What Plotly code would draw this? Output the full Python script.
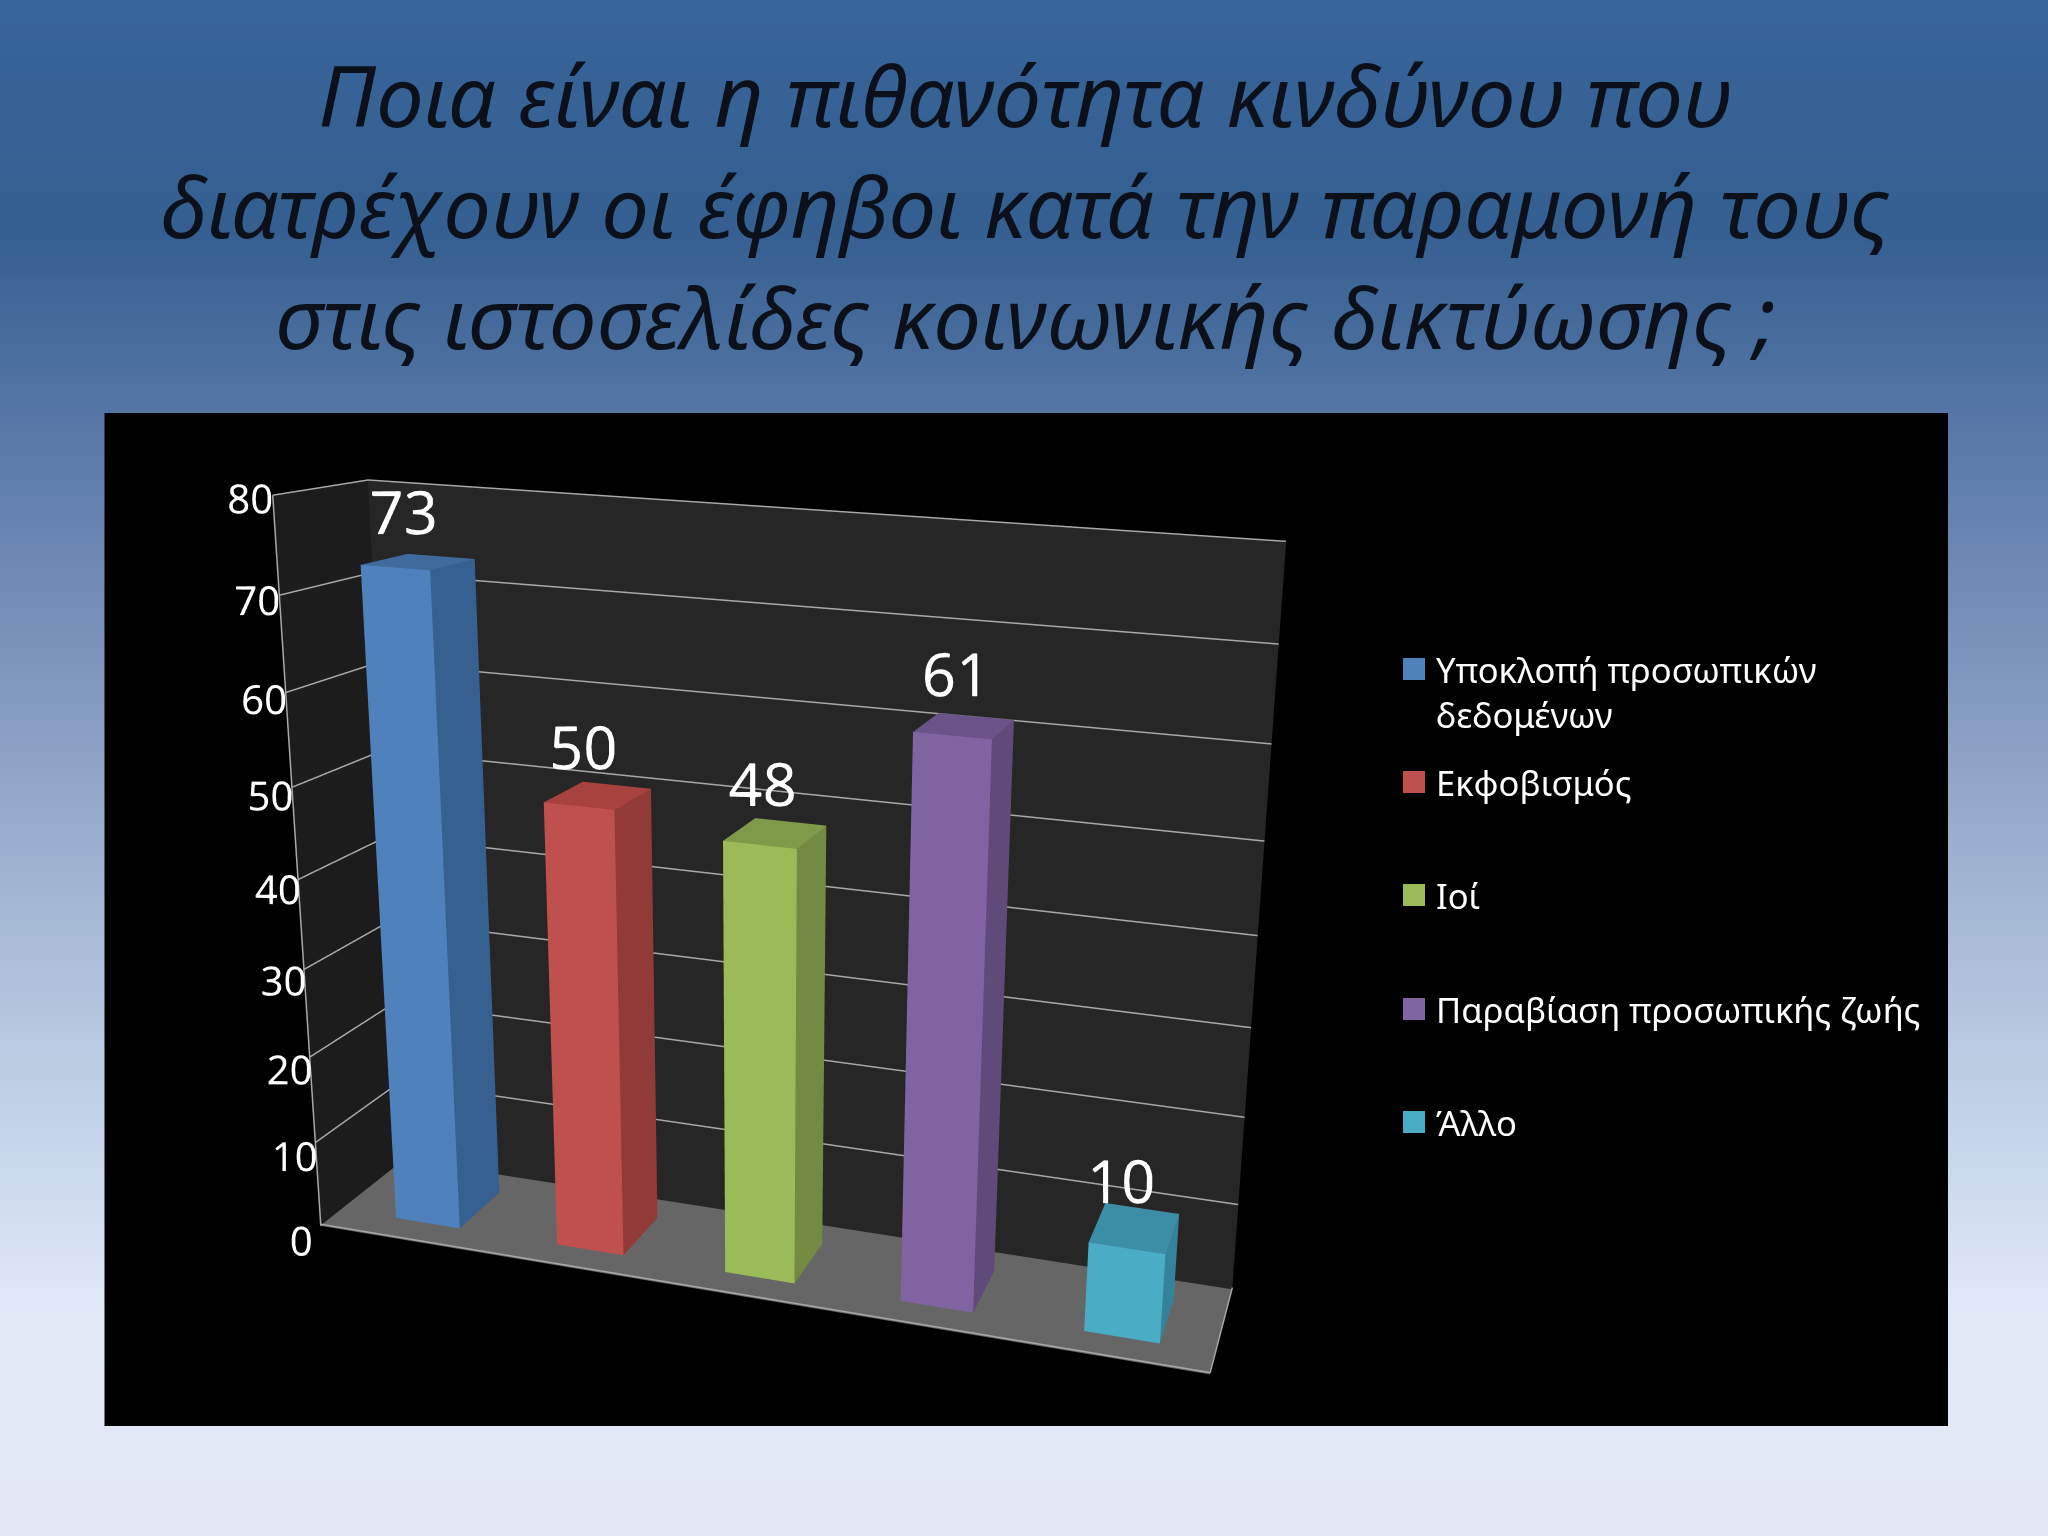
import plotly.graph_objects as go

# ---- data ----
categories = ["Υποκλοπή προσωπικών<br>δεδομένων", "Εκφοβισμός", "Ιοί", "Παραβίαση προσωπικής ζωής", "Άλλο"]
values = [73, 50, 48, 61, 10]
z_ticks = [0, 10, 20, 30, 40, 50, 60, 70, 80]
title_lines = ["Ποια είναι η πιθανότητα κινδύνου που",
               "διατρέχουν οι έφηβοι κατά την παραμονή τους",
               "στις ιστοσελίδες κοινωνικής δικτύωσης ;"]
front_colors = ["#4f81bd", "#c0504d", "#9bbb59", "#8064a2", "#4bacc6"]
side_colors = ["#36608f", "#923a38", "#728a41", "#5f4a7a", "#35839a"]
top_colors = ["#40699c", "#a8423f", "#7f9a48", "#6a5388", "#3c8ea6"]
grad_stops = [(0.0, "#37649a"), (0.15, "#345f90"), (0.27, "#5576a6"), (0.42, "#7b93bb"), (0.57, "#a0b3d1"),
              (0.73, "#c3d3e8"), (0.855, "#e1e9f7"), (1.0, "#e3e7f5")]
legend_y = [692, 782, 895, 1009, 1122]

W, H = 2048, 1536
XMIN, XMAX = -0.05, 4.99
fig = go.Figure()

# slide gradient background
fig.add_trace(go.Heatmap(z=[[s[0]] * 2 for s in grad_stops], y=[s[0] for s in grad_stops], x=[0, 1],
                         colorscale=[[s[0], s[1]] for s in grad_stops], zmin=0, zmax=1, zsmooth="best",
                         showscale=False, hoverinfo="skip", xaxis="x", yaxis="y"))
# black chart panel
px0, px1, py0, py1 = 104.5 / W, 1948 / W, 413 / H, 1426 / H
fig.add_trace(go.Scatter(x=[px0, px1, px1, px0, px0], y=[py0, py0, py1, py1, py0], mode="lines", fill="toself",
                         fillcolor="black", line_width=0, hoverinfo="skip", xaxis="x", yaxis="y"))

BAR_W, BAR_Y0, BAR_Y1 = 0.2, 0.24, 0.76
for i, v in enumerate(values):
    x0, x1 = i + 0.5 - BAR_W, i + 0.5 + BAR_W
    xs = [x0, x1, x1, x0, x0, x1, x1, x0]
    ys = [BAR_Y0, BAR_Y0, BAR_Y1, BAR_Y1, BAR_Y0, BAR_Y0, BAR_Y1, BAR_Y1]
    zs = [0, 0, 0, 0, v, v, v, v]
    faces = [(0, 1, 5, front_colors[i]), (0, 5, 4, front_colors[i]),
             (1, 2, 6, side_colors[i]), (1, 6, 5, side_colors[i]),
             (4, 5, 6, top_colors[i]), (4, 6, 7, top_colors[i])]
    fig.add_trace(go.Mesh3d(x=xs, y=ys, z=zs,
                            i=[f[0] for f in faces], j=[f[1] for f in faces], k=[f[2] for f in faces],
                            facecolor=[f[3] for f in faces], flatshading=True,
                            lighting=dict(ambient=1, diffuse=0, specular=0, fresnel=0, roughness=1),
                            name=categories[i], hoverinfo="skip", scene="scene"))

# thicker wall grid lines and box edges
gx, gy, gz = [], [], []
inset = 0.004
for t in z_ticks[1:]:
    gx += [XMIN + inset, XMAX, None, XMIN + inset, XMIN + inset, None]
    gy += [1 - inset, 1 - inset, None, 0, 1 - inset, None]
    gz += [t, t, None, t, t, None]
gx += [XMIN + inset, XMIN + inset, None, XMIN + inset, XMAX, XMAX]
gy += [0, 0, None, 0, 0, 1]
gz += [0, z_ticks[-1], None, 0.2, 0.2, 0.2]
fig.add_trace(go.Scatter3d(x=gx, y=gy, z=gz, mode="lines", line=dict(color="#a8a8a8", width=3),
                           hoverinfo="skip", scene="scene"))

fig.add_trace(go.Scatter3d(x=[i + 0.42 for i in range(5)], y=[0.5] * 5, z=[v + 5 for v in values],
                           mode="text", text=[str(v) for v in values], textposition="middle center",
                           textfont=dict(family="Noto Sans", size=60, color="white"),
                           hoverinfo="skip", scene="scene"))

axis_common = dict(title="", showgrid=False, zeroline=False, showspikes=False)
fig.update_layout(
    width=W, height=H, margin=dict(l=0, r=0, t=0, b=0), showlegend=False,
    paper_bgcolor="#e3e7f5", plot_bgcolor="rgba(0,0,0,0)",
    xaxis=dict(domain=[0, 1], range=[0, 1], visible=False, fixedrange=True),
    yaxis=dict(domain=[0, 1], range=[1, 0], visible=False, fixedrange=True),
    scene=dict(
        domain=dict(x=[0, 1], y=[0, 1]),
        bgcolor="rgba(0,0,0,0)", dragmode="orbit",
        aspectmode="manual", aspectratio=dict(x=1, y=0.169, z=0.812),
        camera=dict(eye=dict(x=0.670, y=-1.727, z=0.639), center=dict(x=0.250, y=0.071, z=0.157),
                    up=dict(x=-0.098, y=0.255, z=0.961), projection=dict(type="perspective")),
        xaxis=dict(axis_common, range=[XMIN, XMAX], showticklabels=False, ticks="", showline=False,
                   showbackground=True, backgroundcolor="#1c1c1c"),
        yaxis=dict(axis_common, range=[0, 1], showticklabels=False, ticks="", showline=False,
                   showbackground=True, backgroundcolor="#262626"),
        zaxis=dict(title="", showgrid=False, zeroline=False, showspikes=False,
                   range=[0, 80], tickvals=z_ticks, ticks="outside", ticklen=170, tickcolor="black", tickwidth=1,
                   showline=False, ticksuffix="\u00a0" * 6,
                   tickangle=0, tickfont=dict(family="Noto Sans", size=22, color="white"), showbackground=True,
                   backgroundcolor="#666666"),
    ),
)

shapes = []
annotations = []
for ly, t, c in zip(legend_y, categories, front_colors):
    yc = ly if "<br>" not in t else 669
    shapes.append(dict(type="rect", xref="paper", yref="paper", x0=1403 / W, x1=1425 / W,
                       y0=1 - (yc + 11) / H, y1=1 - (yc - 11) / H, fillcolor=c, line_width=0, layer="above"))
    annotations.append(dict(xref="paper", yref="paper", x=1434 / W, y=1 - ly / H, text=t, showarrow=False, align="left",
                            xanchor="left", yanchor="middle", font=dict(family="Noto Sans", size=34.5, color="white")))
for yy, t in zip([94, 205, 316], title_lines):
    annotations.append(dict(xref="paper", yref="paper", x=1025 / W, y=1 - yy / H, text="<i>" + t + "</i>", showarrow=False,
                            xanchor="center", yanchor="middle", font=dict(family="Noto Sans", size=85, color="#0b101a")))
fig.update_layout(shapes=shapes, annotations=annotations)
fig.write_html("out.html", config={"displayModeBar": False},
               post_script="document.body.style.margin='0';document.body.style.overflow='hidden';")
